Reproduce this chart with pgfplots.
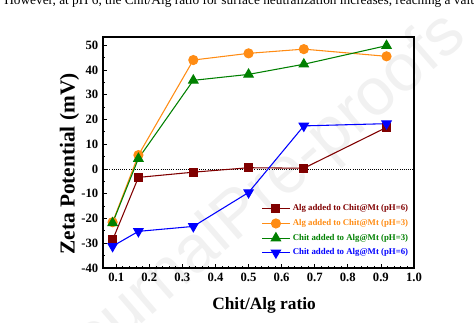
\documentclass[border=0pt]{standalone}
\usepackage{fontspec}
\setmainfont{Liberation Serif}
\newfontfamily\wmfont{Liberation Sans}
\usepackage{pgfplots}
\pgfplotsset{compat=1.18}
\definecolor{cred}{RGB}{128,0,0}
\definecolor{corange}{RGB}{255,140,20}
\definecolor{cgreen}{RGB}{0,128,0}
\definecolor{cblue}{RGB}{0,0,255}
\begin{document}
\begin{tikzpicture}
\useasboundingbox (-77.25pt,-40.5pt) rectangle (278.25pt,201pt);
\begin{scope}[x=0.75pt,y=0.75pt,shift={(-103,-54)}]
\node[anchor=base west, inner sep=0, font=\fontsize{10}{12}\selectfont] at (4,317.5) {However, at pH 6, the Chit/Alg ratio for surface neutralization increases, reaching a value};
\node[rotate=41, anchor=base west, inner sep=0, text=gray!11, font=\wmfont\fontsize{50}{60}\selectfont] at (234,78) {Pre-proofs};
\node[rotate=41, anchor=base east, inner sep=0, text=gray!11, font=\wmfont\fontsize{50}{60}\selectfont] at (234,78) {Journal\ };
\end{scope}
\begin{axis}[
  scale only axis, width=233.25pt, height=173.25pt,
  xmin=0.06, xmax=1.0, ymin=-40, ymax=53.3,
  xtick={0.1,0.2,...,1.0},
  ytick={-40,-30,...,50},
  minor x tick num=4, minor y tick num=1,
  tick align=inside,
  xtick pos=bottom, ytick pos=left,
  major tick length=3pt, minor tick length=1.8pt,
  axis line style={line width=0.8pt},
  every tick/.style={line width=0.6pt, black},
  xticklabel style={/pgf/number format/fixed, /pgf/number format/fixed zerofill, /pgf/number format/precision=1},
  ticklabel style={font=\bfseries\fontsize{9.5}{11}\selectfont},
  /pgf/number format/assume math mode=true,
  every axis x label/.style={at={(axis description cs:0.518,-0.16)}, anchor=center},
  every axis y label/.style={at={(axis description cs:-0.108,0.45)}, rotate=90, anchor=center},
  xlabel={\bfseries\fontsize{13}{15}\selectfont Chit/Alg ratio},
  ylabel={\bfseries\fontsize{16}{18}\selectfont Zeta Potential (mV)},
  legend style={draw=none, fill=none, at={(0.995,0.03)}, anchor=south east,
     font=\bfseries\fontsize{6.6}{8}\selectfont, row sep=0.9pt, inner sep=1pt},
  legend cell align=left,
  legend image code/.code={\draw[mark repeat=2,mark phase=2] plot coordinates {(0cm,0cm)(0.36cm,0cm)(0.72cm,0cm)};},
]
\addplot[black, densely dotted, line width=0.6pt, forget plot] coordinates {(0.06,0) (1.0,0)};
\addplot[cred, line width=0.8pt, mark=square*, mark size=3pt, mark options={solid}] coordinates {
(0.089,-28.7) (0.167,-3.4) (0.333,-1.3) (0.5,0.5) (0.667,0.3) (0.917,16.8)};
\addlegendentry{\textcolor{cred}{Alg added to Chit@Mt (pH=6)}}
\addplot[corange, line width=0.8pt, mark=*, mark size=3.4pt] coordinates {
(0.089,-21.5) (0.167,5.6) (0.333,44.0) (0.5,46.7) (0.667,48.4) (0.917,45.5)};
\addlegendentry{\textcolor{corange}{Alg added to Chit@Mt (pH=3)}}
\addplot[cgreen, line width=0.8pt, mark=triangle*, mark size=4pt] coordinates {
(0.089,-21.8) (0.167,4.2) (0.333,35.8) (0.5,38.2) (0.667,42.3) (0.917,49.8)};
\addlegendentry{\textcolor{cgreen}{Chit added to Alg@Mt (pH=3)}}
\addplot[cblue, line width=0.8pt, mark=triangle*, mark size=4pt, mark options={rotate=180}] coordinates {
(0.089,-31.2) (0.167,-25.2) (0.333,-23.2) (0.5,-9.5) (0.667,17.4) (0.917,18.3)};
\addlegendentry{\textcolor{cblue}{Chit added to Alg@Mt (pH=6)}}
\end{axis}
\end{tikzpicture}
\end{document}
